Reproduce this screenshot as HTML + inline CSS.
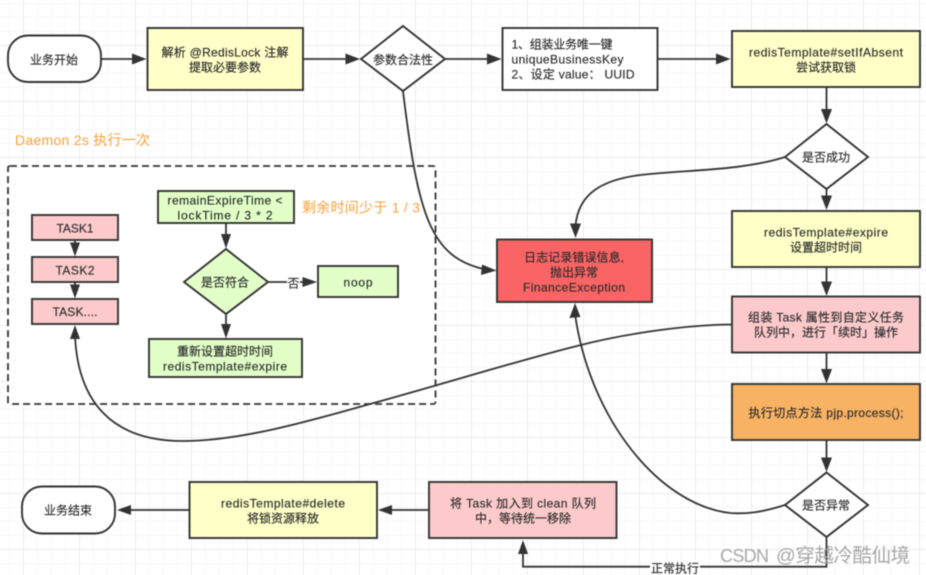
<!DOCTYPE html>
<html>
<head>
<meta charset="utf-8">
<style>
html,body{margin:0;padding:0;background:#fff;width:926px;height:575px;overflow:hidden}
svg{display:block;filter:blur(0.4px)}
text{font-family:"Liberation Sans","Noto Sans CJK SC",sans-serif;font-size:12px;fill:#2b2b2b;stroke:#2b2b2b;stroke-width:0.15;text-anchor:middle}
.s{stroke:#333;stroke-width:1.9}
.l{stroke:#333;stroke-width:1.8;fill:none}
.a{fill:#333}
</style>
</head>
<body>
<svg width="926" height="575" viewBox="0 0 926 575" xmlns="http://www.w3.org/2000/svg">
<defs>
<pattern id="m" width="14" height="14" patternUnits="userSpaceOnUse" x="9" y="3">
<path d="M0 .5H14M.5 0V14" stroke="#f6f6f6" stroke-width="1" fill="none"/>
</pattern>
<pattern id="g" width="56" height="56" patternUnits="userSpaceOnUse" x="23" y="45">
<path d="M0 .5H56M.5 0V56" stroke="#ececec" stroke-width="1" fill="none"/>
</pattern>
</defs>
<rect width="926" height="575" fill="#fff"/>
<rect width="926" height="575" fill="url(#m)"/>
<rect width="926" height="575" fill="url(#g)"/>

<!-- dashed container -->
<rect x="8" y="166" width="427.5" height="238" rx="2" fill="#fff" stroke="#333" stroke-width="1.8" stroke-dasharray="7 4"/>

<!-- connectors -->
<path class="l" d="M101 59H135"/><polygon class="a" points="146.5,59 132,53.5 132,64.5"/>
<path class="l" d="M303 59H348"/><polygon class="a" points="360,59 345.5,53.5 345.5,64.5"/>
<path class="l" d="M445 59H490"/><polygon class="a" points="501.5,59 487,53.5 487,64.5"/>
<path class="l" d="M658 59H719"/><polygon class="a" points="730.5,59 716,53.5 716,64.5"/>
<path class="l" d="M826.5 87V112"/><polygon class="a" points="826.5,123.5 821,109 832,109"/>
<path class="l" d="M826.5 189V199"/><polygon class="a" points="826.5,210 821,195.5 832,195.5"/>
<path class="l" d="M826.5 267V285"/><polygon class="a" points="826.5,296 821,281.5 832,281.5"/>
<path class="l" d="M826.5 353V372"/><polygon class="a" points="826.5,383.5 821,369 832,369"/>
<path class="l" d="M826.5 440V461"/><polygon class="a" points="826.5,472 821,457.5 832,457.5"/>

<path class="l" d="M403 91C418 215 430 258 486 269.5"/><polygon class="a" points="496.5,270.5 482,264.5 481,275"/>
<path class="l" d="M785 157C745 170 690 170 650 174C600 178 578 195 575.5 226"/><polygon class="a" points="575.5,238 570,223.5 581,223.5"/>
<path class="l" d="M732 324.5C680 325 620 335 578 345.7C520 360 440 385 370 404C310 421 240 441 183 441C110 441 78 400 75 336"/><polygon class="a" points="75,325 70,339 80,339"/>
<path class="l" d="M785 505C760 513 745 514 730 513C660 505 590 420 575 314"/><polygon class="a" points="575,303 569.5,318 580.5,317"/>

<path class="l" d="M826.5 537V566.7H523V552"/><polygon class="a" points="523,540 518,554 528,554"/>
<path class="l" d="M429 510H388"/><polygon class="a" points="378,510 392,505 392,515"/>
<path class="l" d="M189 510H127"/><polygon class="a" points="117,510 131,505 131,515"/>

<path class="l" d="M75 240V246"/><polygon class="a" points="75,256.5 70,242.5 80,242.5"/>
<path class="l" d="M75 282V288"/><polygon class="a" points="75,298.5 70,284.5 80,284.5"/>
<path class="l" d="M226 223V238"/><polygon class="a" points="226,248.5 221,234 231,234"/>
<path class="l" d="M226 314V328"/><polygon class="a" points="226,338.5 221,324 231,324"/>
<path class="l" d="M268 282H306"/><polygon class="a" points="317,282 302.5,277 302.5,287"/>

<!-- nodes -->
<rect class="s" x="8" y="35.5" width="93" height="46.5" rx="20" fill="#fff"/>
<rect class="s" x="147.5" y="28" width="155.5" height="62" fill="#ffffc8"/>
<polygon class="s" points="403,26 445,59 403,91 361,59" fill="#fff"/>
<rect class="s" x="502.5" y="28" width="155" height="62" fill="#fff"/>
<rect class="s" x="732" y="31" width="188" height="56" fill="#ffffc8"/>
<polygon class="s" points="826.5,124 868,157 826.5,189 785,157" fill="#fff"/>
<rect class="s" x="732" y="211" width="188" height="56" fill="#ffffc8"/>
<rect class="s" x="497" y="239.5" width="155" height="62.5" fill="#fb6464"/>
<rect class="s" x="732" y="296.5" width="188" height="56" fill="#fccacb"/>
<rect class="s" x="732" y="384" width="188" height="56" fill="#f8b263"/>
<polygon class="s" points="826.5,472.5 868,505 826.5,537 785,505" fill="#fff"/>
<rect class="s" x="429" y="482" width="187.5" height="56" fill="#fccacb"/>
<rect class="s" x="189.5" y="482" width="187.5" height="56" fill="#ffffc8"/>
<rect class="s" x="22" y="486.5" width="93" height="47" rx="20" fill="#fff"/>
<rect class="s" x="32" y="215" width="86" height="25" fill="#fccacb"/>
<rect class="s" x="32" y="257" width="86" height="25" fill="#fccacb"/>
<rect class="s" x="32" y="299" width="86" height="25" fill="#fccacb"/>
<rect class="s" x="158" y="191" width="136" height="32" fill="#e2ffc8"/>
<polygon class="s" points="226,249 268,282 226,314 184,282" fill="#e2ffc8"/>
<rect class="s" x="318" y="266" width="80" height="31" fill="#e2ffc8"/>
<rect class="s" x="149" y="339" width="153" height="38" fill="#e2ffc8"/>

<!-- labels -->
<text x="54" y="64">业务开始</text>
<text x="225" y="56.5" textLength="127">解析 @RedisLock 注解</text>
<text x="225" y="71.5">提取必要参数</text>
<text x="403" y="64">参数合法性</text>
<text x="511.5" y="48.5" style="text-anchor:start" textLength="101">1、组装业务唯一键</text>
<text x="511.5" y="63.5" style="text-anchor:start" textLength="112">uniqueBusinessKey</text>
<text x="511.5" y="78.5" style="text-anchor:start" textLength="123">2、设定 value： UUID</text>
<text x="826" y="56.5" textLength="154">redisTemplate#setIfAbsent</text>
<text x="826" y="71.5">尝试获取锁</text>
<text x="826" y="161.5">是否成功</text>
<text x="826" y="236.5" textLength="124">redisTemplate#expire</text>
<text x="826" y="251.5">设置超时时间</text>
<text x="574" y="261.5" textLength="100">日志记录错误信息,</text>
<text x="574" y="276.5">抛出异常</text>
<text x="574" y="291.5" textLength="102">FinanceException</text>
<text x="826" y="321.5" textLength="156">组装 Task 属性到自定义任务</text>
<text x="826" y="336.5">队列中，进行「续时」操作</text>
<text x="826" y="417" textLength="155">执行切点方法 pjp.process();</text>
<text x="826" y="509.5">是否异常</text>
<text x="523" y="507.5" textLength="146">将 Task 加入到 clean 队列</text>
<text x="523" y="522.5">中，等待统一移除</text>
<text x="283" y="507.5" textLength="124">redisTemplate#delete</text>
<text x="283" y="522.5">将锁资源释放</text>
<text x="68" y="514.5">业务结束</text>
<text x="75" y="232.5" textLength="37">TASK1</text>
<text x="75" y="274.5" textLength="39">TASK2</text>
<text x="75" y="316" textLength="45">TASK....</text>
<text x="225" y="204.5" textLength="115">remainExpireTime &lt;</text>
<text x="225" y="219.5" textLength="95">lockTime / 3 * 2</text>
<text x="225" y="286.5">是否符合</text>
<text x="358" y="286.5" textLength="29">noop</text>
<text x="225" y="355.5">重新设置超时时间</text>
<text x="225" y="370.5" textLength="124">redisTemplate#expire</text>

<rect x="287" y="275" width="13" height="15" fill="#fff"/>
<text x="293.5" y="287.5">否</text>
<rect x="650" y="560" width="50" height="14" fill="#fff"/>
<text x="675" y="572.5">正常执行</text>

<text x="15" y="145" style="text-anchor:start;font-size:14px;fill:#f9a13c;stroke:none" textLength="135">Daemon 2s 执行一次</text>
<text x="302" y="212.5" style="text-anchor:start;font-size:14px;fill:#f9a13c;stroke:none" textLength="118">剩余时间少于 1 / 3</text>

<text x="720" y="562" style="text-anchor:start;font-size:18px;fill:#a8a8a8;stroke:none" textLength="49">CSDN</text>
<text x="776" y="562" style="text-anchor:start;font-size:19.5px;fill:#a8a8a8;stroke:none" textLength="134">@穿越冷酷仙境</text>
</svg>
</body>
</html>
